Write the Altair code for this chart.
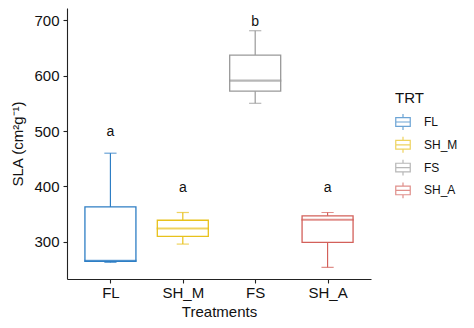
import altair as alt
import pandas as pd

categories = ["FL", "SH_M", "FS", "SH_A"]
lower = [263, 296, 550, 254]
q1 = [265, 310, 572, 299]
median = [266, 324, 591, 340]
q3 = [363, 339, 637, 347]
upper = [460, 353, 681, 353]
letters = ["a", "a", "b", "a"]
letter_y = [498, 398, 697, 398]
colors = ["#2e7ec4", "#e8c11c", "#999999", "#d3605a"]

df = pd.DataFrame({
    "TRT": categories, "lower": lower, "q1": q1, "median": median,
    "q3": q3, "upper": upper, "letter": letters, "ly": letter_y,
})

font = "Liberation Sans"
xenc = alt.X("TRT:N", sort=categories, title="Treatments",
             scale=alt.Scale(type="point", padding=0.6),
             axis=alt.Axis(labelAngle=0))
yscale = alt.Scale(domain=[233, 722], nice=False, zero=False)
stroke = alt.Stroke(
    "TRT:N", sort=categories,
    scale=alt.Scale(domain=categories, range=colors),
    legend=alt.Legend(
        title="TRT", orient="none", legendX=328, legendY=83,
        symbolType="M-1,-0.6H1V0.6H-1Z M-1,0H1 M0,-0.6V-1.1 M0,0.6V1.1",
        symbolSize=210, symbolStrokeWidth=1.2, symbolFillColor="white",
        rowPadding=0.8, labelOffset=13, titlePadding=8,
        titleFontSize=15, labelFontSize=12, titleFontWeight="normal",
        titleFont=font, labelFont=font, titleColor="#111", labelColor="#111",
    ),
)

base = alt.Chart(df).encode(x=xenc)

whisker = base.mark_rule(strokeWidth=1.2).encode(
    y=alt.Y("lower:Q", scale=yscale, title="SLA (cm²g⁻¹)",
            axis=alt.Axis(values=[300, 400, 500, 600, 700])),
    y2="upper:Q", stroke=stroke)
cap_hi = base.mark_tick(filled=False, size=11, thickness=0.01, strokeWidth=1.2).encode(
    y=alt.Y("upper:Q", scale=yscale), stroke=stroke)
cap_lo = base.mark_tick(filled=False, size=11, thickness=0.01, strokeWidth=1.2).encode(
    y=alt.Y("lower:Q", scale=yscale), stroke=stroke)
box = base.mark_bar(size=51, fill="white", strokeWidth=1.3).encode(
    y=alt.Y("q1:Q", scale=yscale), y2="q3:Q", stroke=stroke)
med = base.mark_tick(filled=False, size=51, thickness=0.8, strokeWidth=1.3).encode(
    y=alt.Y("median:Q", scale=yscale), stroke=stroke)
txt = base.mark_text(fontSize=14, font=font, color="#111", baseline="middle").encode(
    y=alt.Y("ly:Q", scale=yscale), text="letter:N")

chart = alt.layer(whisker, cap_hi, cap_lo, box, med, txt).properties(
    width=304, height=271,
    autosize=alt.AutoSizeParams(type="none"),
    padding={"left": 67, "top": 8, "right": 103, "bottom": 49},
).configure_view(stroke=None).configure_axis(
    grid=False, domainColor="#222", domainWidth=1.1, tickColor="#222",
    tickSize=4, tickWidth=1.1, labelFont=font, titleFont=font,
    labelFontSize=15, titleFontSize=15, labelColor="#111", titleColor="#111",
    titleFontWeight="normal",
).configure_axisY(labelPadding=4, titlePadding=8).configure_axisX(
    labelPadding=2, titlePadding=4)

chart.save("out.html", embed_options={"renderer": "svg", "actions": False})
